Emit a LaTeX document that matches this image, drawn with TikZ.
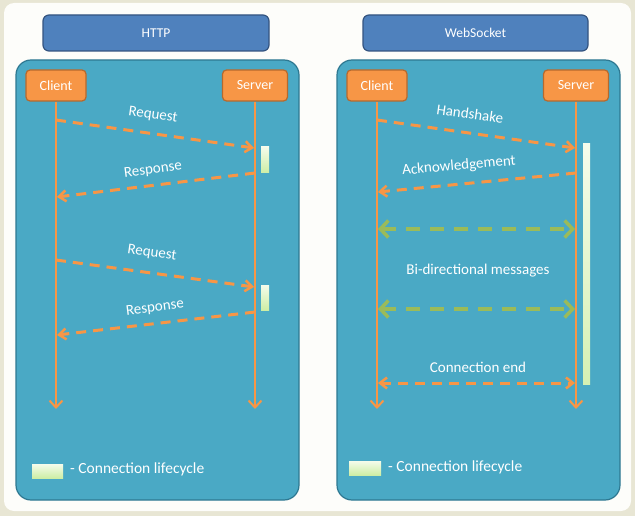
\documentclass[tikz,border=0pt]{standalone}
\usepackage{fontspec}
\setmainfont{Carlito}
\usetikzlibrary{arrows.meta}
\definecolor{beige}{RGB}{232,230,212}
\definecolor{paper}{RGB}{253,253,250}
\definecolor{teal}{RGB}{74,169,197}
\definecolor{tealdark}{RGB}{46,120,145}
\definecolor{titleblue}{RGB}{79,129,189}
\definecolor{titledark}{RGB}{52,84,128}
\definecolor{orng}{RGB}{247,150,70}
\definecolor{orngdark}{RGB}{182,105,45}
\definecolor{grn}{RGB}{155,187,89}
\definecolor{lifetop}{RGB}{245,252,235}
\definecolor{lifebot}{RGB}{205,238,165}
\tikzset{
  titlebox/.style={draw=titledark, line width=1.2pt, fill=titleblue, rounded corners=6pt,
    minimum width=226pt, minimum height=36pt, text=white, font=\fontsize{13.5}{15}\selectfont},
  panel/.style={draw=tealdark, line width=1.2pt, fill=teal, rounded corners=15pt,
    minimum width=283pt, minimum height=440pt},
  actor/.style={draw=orngdark, line width=1.2pt, fill=orng, rounded corners=4pt,
    minimum height=31pt, text=white, font=\fontsize{14}{16}\selectfont, inner sep=0pt},
  lifeline/.style={draw=orng, line width=2pt, -{Straight Barb[length=7pt,width=13pt,line width=2pt]}},
  msg/.style={draw=orng, line width=3pt, dash pattern=on 10pt off 7pt,
    -{Straight Barb[length=7pt,width=11pt,line width=2.5pt]}},
  endmsg/.style={draw=orng, line width=3pt, dash pattern=on 10pt off 7pt,
    {Straight Barb[length=7pt,width=11pt,line width=2.5pt]}-{Straight Barb[length=7pt,width=11pt,line width=2.5pt]}},
  bimsg/.style={draw=grn, line width=4pt, dash pattern=on 14pt off 10pt,
    {Straight Barb[length=8pt,width=17pt,line width=3.5pt]}-{Straight Barb[length=8pt,width=17pt,line width=3.5pt]}},
  lbl/.style={text=white, font=\fontsize{15}{17}\selectfont, inner sep=0pt},
  lifebar/.style={top color=lifetop, bottom color=lifebot, draw=none},
}
\begin{document}
\begin{tikzpicture}[x=1pt,y=-1pt]
\useasboundingbox (0,0) rectangle (635,516);
\fill[beige] (0,0) rectangle (635,516);
\fill[paper, rounded corners=10pt] (4,3) rectangle (631,511);

% titles
\node[titlebox] (thttp) at (156,33) {HTTP};
\node[titlebox, minimum width=225pt] (tws) at (475.5,33) {WebSocket};

% panels
\node[panel] (pl) at (157.5,280) {};
\node[panel] (pr) at (478.5,280) {};

% actors
\node[actor, minimum width=60pt] (cl) at (56,85.5) {Client};
\node[actor, minimum width=65pt] (sl) at (255,85.5) {Server};
\node[actor, minimum width=60pt] (cr) at (377,85.5) {Client};
\node[actor, minimum width=65pt] (sr) at (576,85.5) {Server};

% lifeline ends
\coordinate (clend) at (56,409);
\coordinate (slend) at (255,409);
\coordinate (crend) at (377,409);
\coordinate (srend) at (576,409);

% lifecycle bars (HTTP)
\fill[lifebar] (261,147) rectangle (269,173);
\fill[lifebar] (261,285) rectangle (269,310);
% lifecycle bar (WebSocket)
\fill[lifebar, top color=lifetop, bottom color=lifebot!80!lifetop] (583,144) rectangle (590,384);

\draw[lifeline] (cl.south) -- (clend);
\draw[lifeline] (sl.south) -- (slend);
\draw[lifeline] (cr.south) -- (crend);
\draw[lifeline] (sr.south) -- (srend);

% HTTP messages
\coordinate (q1a) at (56,120);  \coordinate (q1b) at (254,148);
\coordinate (p1a) at (255,173); \coordinate (p1b) at (57,197);
\coordinate (q2a) at (56,260);  \coordinate (q2b) at (254,287);
\coordinate (p2a) at (255,312); \coordinate (p2b) at (57,335);
\draw[msg] (q1a) -- (q1b);
\draw[msg] (p1a) -- (p1b);
\draw[msg] (q2a) -- (q2b);
\draw[msg] (p2a) -- (p2b);
\node[lbl, rotate=-8] (lq1) at (153,115) {Request};
\node[lbl, rotate=7] (lp1) at (153,170) {Response};
\node[lbl, rotate=-8] (lq2) at (152,253) {Request};
\node[lbl, rotate=7] (lp2) at (155,308) {Response};

% WebSocket messages
\coordinate (h1a) at (377,120); \coordinate (h1b) at (575,148);
\coordinate (a1a) at (576,173); \coordinate (a1b) at (378,192);
\coordinate (b1a) at (378,229); \coordinate (b1b) at (575,229);
\coordinate (b2a) at (378,309); \coordinate (b2b) at (575,309);
\coordinate (e1a) at (378,383); \coordinate (e1b) at (575,383);
\draw[msg] (h1a) -- (h1b);
\draw[msg] (a1a) -- (a1b);
\draw[bimsg] (b1a) -- (b1b);
\draw[bimsg] (b2a) -- (b2b);
\draw[endmsg] (e1a) -- (e1b);
\node[lbl, rotate=-8] (lh) at (470,114) {Handshake};
\node[lbl, rotate=5] (la) at (459,166) {Acknowledgement};
\node[lbl] (lb) at (478,271) {Bi-directional messages};
\node[lbl] (le) at (478,367) {Connection end};

% legends
\fill[lifebar] (32,464) rectangle (63,478);
\node[lbl, anchor=west, font=\fontsize{15.5}{17}\selectfont] (legl) at (70,469) {- Connection lifecycle};
\fill[lifebar] (349,461) rectangle (381,475);
\node[lbl, anchor=west, font=\fontsize{15.5}{17}\selectfont] (legr) at (388,467) {- Connection lifecycle};
\end{tikzpicture}
\end{document}
